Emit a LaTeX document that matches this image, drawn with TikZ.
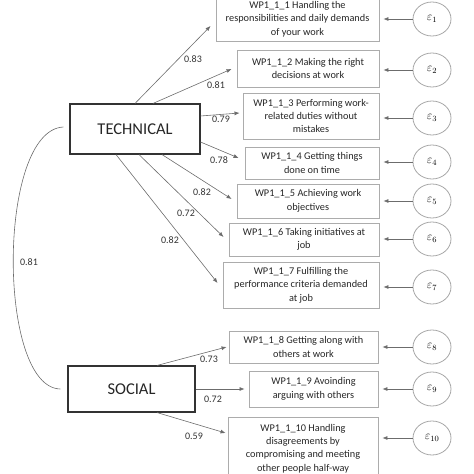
\documentclass[tikz,border=0pt]{standalone}
\usepackage{fontspec}
\setmainfont{Carlito}
\usetikzlibrary{arrows.meta,calc}
\tikzset{
  itembox/.style={draw=gray!65, line width=0.9pt, align=center, inner sep=1pt,
    font=\fontsize{10.3}{13.4}\selectfont, text=black!85},
  latent/.style={draw=black!80, line width=1.1pt, font=\fontsize{16.5}{18}\selectfont, text=black!85},
  errc/.style={draw=gray!70, line width=0.8pt, ellipse, minimum width=38pt, minimum height=34pt,
    font=\fontsize{12}{12}\selectfont, inner sep=0pt},
  conn/.style={draw=gray!85!black, line width=0.6pt, -{Latex[length=5pt,width=4pt]}},
  lbl/.style={font=\fontsize{10}{11}\selectfont, text=black!80, inner sep=0pt},
}
\usetikzlibrary{shapes.geometric}
\begin{document}
\begin{tikzpicture}[x=1pt,y=-1pt]
\useasboundingbox (0,0) rectangle (474,474);
% latent nodes
\node[latent, minimum width=130pt, minimum height=50pt] (tech) at (135,129) {TECHNICAL};
\node[latent, minimum width=127pt, minimum height=46pt] (soc) at (131.5,389) {SOCIAL};
% item boxes
\node[itembox, minimum width=163pt, minimum height=44pt] (b1) at (297.5,19) {WP1\_1\_1 Handling the\\responsibilities and daily demands\\of your work};
\node[itembox, minimum width=142pt, minimum height=37pt] (b2) at (308,68.5) {WP1\_1\_2 Making the right\\decisions at work};
\node[itembox, minimum width=136pt, minimum height=46pt] (b3) at (311,116) {WP1\_1\_3 Performing work-\\related duties without\\mistakes};
\node[itembox, minimum width=134pt, minimum height=32pt] (b4) at (312,163) {WP1\_1\_4 Getting things\\done on time};
\node[itembox, minimum width=142pt, minimum height=34pt] (b5) at (308,201) {WP1\_1\_5 Achieving work\\objectives};
\node[itembox, minimum width=150pt, minimum height=33pt] (b6) at (304,239.5) {WP1\_1\_6 Taking initiatives at\\job};
\node[itembox, minimum width=156pt, minimum height=46pt] (b7) at (301,285) {WP1\_1\_7 Fulfilling the\\performance criteria demanded\\at job};
\node[itembox, minimum width=149pt, minimum height=32pt] (b8) at (303.5,347) {WP1\_1\_8 Getting along with\\others at work};
\node[itembox, minimum width=129pt, minimum height=36pt] (b9) at (313.5,389) {WP1\_1\_9 Avoinding\\arguing with others};
\node[itembox, minimum width=150pt, minimum height=63pt] (b10) at (303,448.5) {WP1\_1\_10 Handling\\disagreements by\\compromising and meeting\\other people half-way};
% error terms
\foreach \i/\yy in {1/19,2/70,3/118,4/162,5/201,6/239,7/287,8/347,9/389,10/438}{
  \node[errc] (e\i) at (432,\yy) {$\varepsilon_{\i}$};
  \draw[conn] (e\i.west) -- ([xshift=4pt]b\i.east |- e\i.west);
}
% loadings TECHNICAL
\draw[conn] (tech.north) -- ($(b1.west)+(-5,7)$);
\draw[conn] ($(tech.north)+(18,0)$) -- ($(b2.west)+(-5,0.5)$);
\draw[conn] ($(tech.east)+(0,-13)$) -- ($(b3.west)+(-3,-3)$);
\draw[conn] ($(tech.east)+(0,13)$) -- ($(b4.west)+(-6,-5)$);
\draw[conn] ($(tech.south)+(27,0)$) -- ($(b5.west)+(-5,-2)$);
\draw[conn] ($(tech.south)+(4,0)$) -- ($(b6.west)+(-5,-2.5)$);
\draw[conn] ($(tech.south)+(-19,0)$) -- ($(b7.west)+(-5,-2)$);
% loadings SOCIAL
\draw[conn] ($(soc.north)+(25.5,0)$) -- ($(b8.west)+(-2,0)$);
\draw[conn] (soc.east) -- ($(b9.west)+(-4,0)$);
\draw[conn] ($(soc.south)+(25.5,0)$) -- ($(b10.west)+(-2,-15.5)$);
% labels
\node[lbl] (l1) at (193,59) {0.83};
\node[lbl] (l2) at (216,85) {0.81};
\node[lbl] (l3) at (221,119) {0.79};
\node[lbl] (l4) at (219,160) {0.78};
\node[lbl] (l5) at (202,192) {0.82};
\node[lbl] (l6) at (186,213) {0.72};
\node[lbl] (l7) at (170,240) {0.82};
\node[lbl] (l8) at (209,359) {0.73};
\node[lbl] (l9) at (213,399) {0.72};
\node[lbl] (l10) at (194,436) {0.59};
\node[lbl] (lc) at (29,262) {0.81};
% covariance
\draw[draw=gray!85!black, line width=0.6pt] ($(tech.west)+(-6,-2)$) .. controls (-3,130) and (-3,388) .. ($(soc.west)+(-7,0)$);
\end{tikzpicture}
\end{document}
